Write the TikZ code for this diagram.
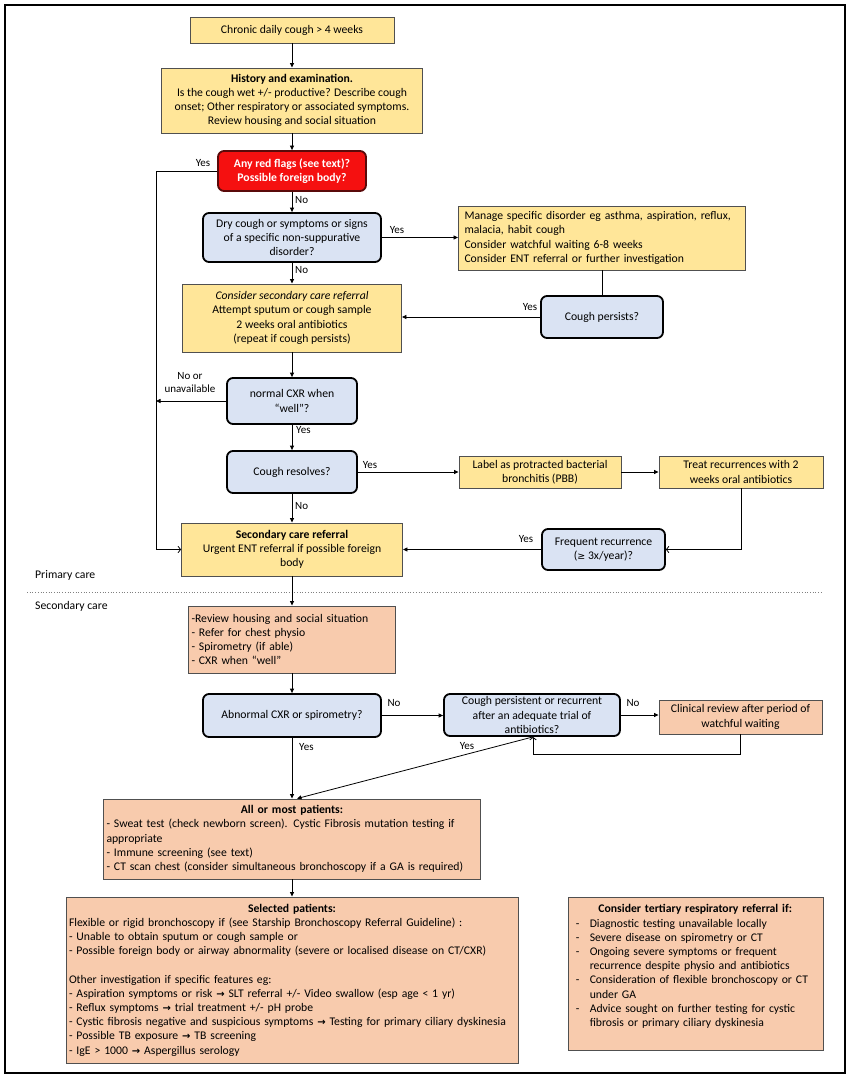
\documentclass[tikz,border=0pt]{standalone}
\usepackage{fontspec}
\setmainfont{Carlito}
\newfontfamily\symf{DejaVu Sans}
\usetikzlibrary{arrows.meta}
\definecolor{yfill}{HTML}{FFE699}
\definecolor{bfill}{HTML}{DAE3F3}
\definecolor{ofill}{HTML}{F8CBAD}
\definecolor{rfill}{HTML}{F51010}
\definecolor{redge}{HTML}{5A0A0A}
\definecolor{edge}{HTML}{505050}
\newcommand{\bodyfont}{\fontsize{11.7}{14.2}\selectfont}
\newcommand{\rarr}{{\symf\bfseries\fontsize{10}{14}\selectfont →}}
\newcommand{\geqs}{{\symf\fontsize{9.5}{14}\selectfont ≥}}
\newcommand{\bul}{\makebox[14pt][l]{-}}
\newcommand{\ind}{\hspace*{14pt}}
\begin{document}
\begin{tikzpicture}[x=1pt,y=-1pt,font=\bodyfont,
  ybox/.style={draw=edge, line width=0.9pt, fill=yfill, inner sep=2pt, align=center},
  bbox/.style={draw=black, line width=1.8pt, fill=bfill, rounded corners=6pt, inner sep=2pt, align=center},
  rbox/.style={draw=redge, line width=1.8pt, fill=rfill, rounded corners=6pt, inner sep=2pt, align=center, text=white, font=\bodyfont\bfseries},
  obox/.style={draw=edge, line width=0.9pt, fill=ofill, inner sep=2pt},
  arr/.style={-{Triangle[length=4.5pt,width=4pt]}, line width=0.8pt},
  oarr/.style={-{Straight Barb[length=2.5pt,width=6.5pt]}, line width=0.8pt},
  lbl/.style={font=\fontsize{11}{13}\selectfont, inner sep=0pt}]
\useasboundingbox (0,0) rectangle (850,1078);
\fill[white] (0,0) rectangle (850,1078);
\draw[line width=2pt] (5,5) rectangle (845,1073);

% primary care column
\node[ybox, minimum width=204pt, minimum height=26pt] (b1) at (292,30) {Chronic daily cough > 4 weeks};
\node[ybox, minimum width=261pt, minimum height=65pt] (b2) at (292,100.5) {\textbf{History and examination.}\\ Is the cough wet +/- productive? Describe cough\\ onset; Other respiratory or associated symptoms.\\ Review housing and social situation};
\node[rbox, minimum width=148pt, minimum height=40pt] (b3) at (292,171) {Any red flags (see text)?\\ Possible foreign body?};
\node[bbox, minimum width=178pt, minimum height=49pt] (b4) at (292,237.5) {Dry cough  or symptoms or signs\\ of a specific non-suppurative\\ disorder?};
\node[ybox, minimum width=287pt, minimum height=64pt, text width=275pt, inner xsep=6pt, align=left] (b5) at (602,238) {Manage specific disorder eg  asthma, aspiration, reflux,\\ malacia, habit cough\\ Consider watchful waiting 6-8 weeks\\ Consider ENT referral or further investigation};
\node[bbox, minimum width=122pt, minimum height=42pt] (b6) at (602,317) {Cough persists?};
\node[ybox, minimum width=219pt, minimum height=68pt] (b7) at (292,318) {\textit{Consider secondary care referral}\\ Attempt  sputum or cough sample\\ 2 weeks oral antibiotics\\ (repeat if cough persists)};
\node[bbox, minimum width=130pt, minimum height=46pt] (b8) at (292,401) {normal CXR when\\ “well”?};
\node[bbox, minimum width=130pt, minimum height=42pt] (b9) at (292,472) {Cough resolves?};
\node[ybox, minimum width=162pt, minimum height=32pt] (b10) at (540,472) {Label as protracted bacterial\\ bronchitis (PBB)};
\node[ybox, minimum width=164pt, minimum height=32pt] (b11) at (741,472) {Treat recurrences with 2\\ weeks oral antibiotics};
\node[ybox, minimum width=221pt, minimum height=53pt] (b12) at (292,549.5) {\textbf{Secondary care referral}\\ Urgent ENT referral if possible foreign\\ body};
\node[bbox, minimum width=123pt, minimum height=41pt] (b13) at (603.5,549.5) {Frequent recurrence\\ (\geqs{} 3x/year)?};

% divider
\draw[gray, dotted, line width=0.7pt] (27,592) -- (823,592);
\node[anchor=west, inner sep=0pt] (pc) at (35,575) {Primary care};
\node[anchor=west, inner sep=0pt] (sc) at (35,606) {Secondary care};

% secondary care column
\node[obox, minimum width=207pt, minimum height=67pt, text width=201pt, inner xsep=3pt, align=left] (b14) at (292,639.5) {-Review housing and social situation\\ - Refer for chest physio\\ - Spirometry  (if able)\\ - CXR when “well”};
\node[bbox, minimum width=178pt, minimum height=43pt] (b15) at (292,715.5) {Abnormal CXR or spirometry?};
\node[bbox, minimum width=176pt, minimum height=42pt] (b16) at (532,715) {Cough persistent or recurrent\\ after an adequate trial of\\ antibiotics?};
\node[obox, minimum width=163pt, minimum height=34pt, align=center] (b17) at (740.5,717) {Clinical review after period of\\ watchful waiting};
\node[obox, minimum width=377pt, minimum height=80pt, text width=371pt, inner xsep=3pt, align=left] (b18) at (292,839) {\makebox[\linewidth]{\textbf{All or most patients:}}\\ - Sweat test (check newborn screen). Cystic Fibrosis  mutation testing if\\ appropriate\\ - Immune screening (see text)\\ - CT scan chest (consider simultaneous bronchoscopy if a GA is required)};
\node[obox, minimum width=452pt, minimum height=166pt, text width=446pt, inner xsep=3pt, align=left] (b19) at (292,980) {\makebox[\linewidth]{\textbf{Selected patients:}}\\
Flexible or rigid bronchoscopy  if (see Starship  Bronchoscopy Referral Guideline) :\\
- Unable to obtain sputum or cough sample or\\
- Possible foreign body or airway abnormality (severe or localised disease on CT/CXR)\\[14.2pt]
Other investigation if specific features eg:\\
- Aspiration symptoms or risk \rarr{} SLT referral +/- Video swallow (esp age < 1 yr)\\
- Reflux symptoms \rarr{} trial treatment +/- pH probe\\
- Cystic  fibrosis negative and suspicious symptoms \rarr{} Testing for primary ciliary dyskinesia\\
- Possible TB exposure \rarr{} TB screening\\
- IgE > 1000 \rarr{} Aspergillus serology};
\node[obox, minimum width=255pt, minimum height=153pt] (b20) at (695.5,973.5) {};
\node[anchor=north west, inner sep=0pt, text width=239pt, align=left] (t20) at ([xshift=8pt,yshift=-8pt]b20.north west) {\makebox[\linewidth]{\textbf{Consider  tertiary respiratory referral if:}}\\
\bul Diagnostic testing unavailable locally\\
\bul Severe disease on spirometry or CT\\
\bul Ongoing severe symptoms or frequent\\
\ind recurrence despite physio and antibiotics\\
\bul Consideration of  flexible bronchoscopy or CT\\
\ind under GA\\
\bul Advice sought on further testing for cystic\\
\ind fibrosis or primary ciliary dyskinesia};

% helper coordinates
\coordinate (lx) at (156,0);
\coordinate (rj) at (533,754);

% connectors
\draw[arr] (b1) -- (b2);
\draw[arr] (b2) -- (b3);
\draw[oarr] (b3.west) -- (b3.west -| lx) -- (lx |- b12.west) -- (b12.west);
\draw[arr] (b3) -- (b4);
\draw[arr] (b4.east) -- (b4.east -| b5.west);
\draw[arr] (b4) -- (b7);
\draw[line width=0.8pt] (b6.north |- b5.south) -- (b6.north);
\draw[arr] (b6.west) -- (b6.west -| b7.east);
\draw[arr] (b7) -- (b8);
\draw[arr] (b8.west) -- (b8.west -| lx);
\draw[arr] (b8) -- (b9);
\draw[arr] (b9.east) -- (b9.east -| b10.west);
\draw[arr] (b10) -- (b11);
\draw[oarr] (b11.south) |- (b13.east);
\draw[arr] (b13.west) -- (b13.west -| b12.east);
\draw[arr] (b9) -- (b12);
\draw[arr] (b12) -- (b14);
\draw[arr] (b14) -- (b15);
\draw[arr] (b15.east) -- (b15.east -| b16.west);
\draw[arr] (b16.east) -- (b16.east -| b17.west);
\draw[oarr] (b17.south) |- (rj) -- (rj |- b16.south);
\draw[arr] (b15) -- (b18);
\draw[arr] (rj |- b16.south) -- ([xshift=5pt]b18.north);
\draw[arr] (b18) -- (b19);

% labels
\node[lbl] (y1) at (203,163) {Yes};
\node[lbl, anchor=west] (n1) at (295,200) {No};
\node[lbl] (y2) at (397,230) {Yes};
\node[lbl, anchor=west] (n2) at (295,270) {No};
\node[lbl] (y3) at (530,307) {Yes};
\node[lbl, align=center] (n3) at (190,383) {No or\\ unavailable};
\node[lbl, anchor=west] (y4) at (296,430) {Yes};
\node[lbl] (y5) at (370,465) {Yes};
\node[lbl, anchor=west] (n4) at (295,506) {No};
\node[lbl] (y6) at (526,539) {Yes};
\node[lbl] (n5) at (394,703) {No};
\node[lbl] (n6) at (633,703) {No};
\node[lbl] (y7) at (467,746) {Yes};
\node[lbl, anchor=west] (y8) at (299,747) {Yes};
\end{tikzpicture}
\end{document}
